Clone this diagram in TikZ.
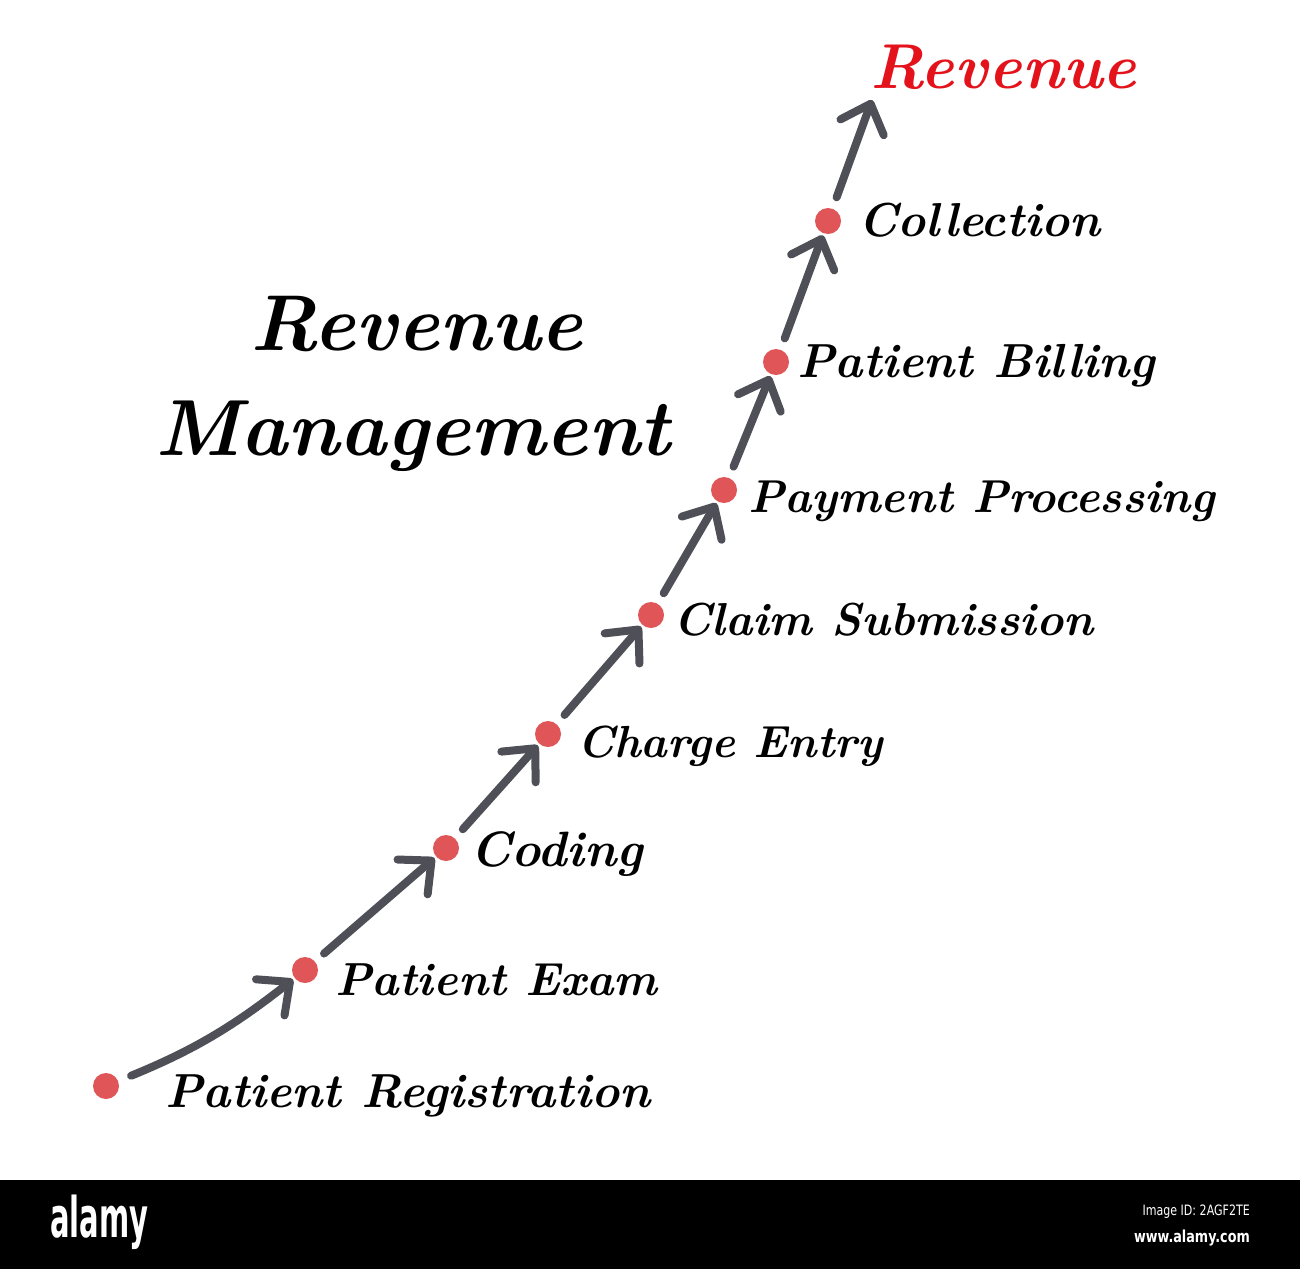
\documentclass[tikz,border=0pt]{standalone}
\usepackage{fontspec}
\setsansfont{DejaVu Sans}
\usetikzlibrary{arrows.meta}
\definecolor{arrowgray}{HTML}{4F4F57}
\definecolor{dotred}{HTML}{E05658}
\definecolor{revred}{HTML}{E3121B}
\newcommand{\fitlabel}[2]{\resizebox{#1pt}{!}{\bfseries\itshape #2}}
\begin{document}
\begin{tikzpicture}[x=1pt,y=-1pt,
  dot/.style={circle, fill=dotred, inner sep=0pt, minimum size=26pt},
  lbl/.style={anchor=base west, inner sep=0pt},
  flow/.style={draw=arrowgray, line width=8pt, line cap=round,
    -{Straight Barb[round, length=25pt, width=46pt]}}]
\useasboundingbox (0,0) rectangle (1300,1269);
\fill[white] (0,0) rectangle (1300,1180);
% dots
\node[dot] (reg) at (106,1086) {};
\node[dot] (exam) at (305,970) {};
\node[dot] (cod) at (446,848) {};
\node[dot] (chg) at (548,734) {};
\node[dot] (clm) at (651,615) {};
\node[dot] (pay) at (724,490) {};
\node[dot] (bil) at (776,362) {};
\node[dot] (col) at (828,221) {};
\coordinate (revtip) at (872,100);
% labels
\node[lbl] (lreg) at (165,1107) {\fitlabel{485}{Patient Registration}};
\node[lbl] (lexam) at (335,995) {\fitlabel{322}{Patient Exam}};
\node[lbl] (lcod) at (470,866) {\fitlabel{173}{Coding}};
\node[lbl] (lchg) at (577,757) {\fitlabel{305}{Charge Entry}};
\node[lbl] (lclm) at (673,635) {\fitlabel{420}{Claim Submission}};
\node[lbl] (lpay) at (748,512) {\fitlabel{467}{Payment Processing}};
\node[lbl] (lbil) at (797,377) {\fitlabel{358}{Patient Billing}};
\node[lbl] (lcol) at (858,236) {\fitlabel{242}{Collection}};
\node[lbl, text=revred] (lrev) at (870,88) {\fitlabel{266}{Revenue}};
% title
\node[lbl] (t1) at (250,350) {\fitlabel{332}{Revenue}};
\node[lbl] (t2) at (155,455) {\fitlabel{515}{Management}};
% arrows
\draw[flow, shorten <=14pt, shorten >=2pt] (reg) to[bend right=8] (exam);
\draw[flow, shorten <=12pt, shorten >=2pt] (exam) -- (cod);
\draw[flow, shorten <=12pt, shorten >=2pt] (cod) -- (chg);
\draw[flow, shorten <=12pt, shorten >=2pt] (chg) -- (clm);
\draw[flow, shorten <=12pt, shorten >=2pt] (clm) -- (pay);
\draw[flow, shorten <=12pt, shorten >=2pt] (pay) -- (bil);
\draw[flow, shorten <=12pt, shorten >=2pt] (bil) -- (col);
\draw[flow, shorten <=12pt] (col) -- (revtip);
% bottom bar
\fill[black] (0,1180) rectangle (1300,1269);
\node[anchor=west, inner sep=0pt, text=white, font=\sffamily\bfseries] (alamy) at (50,1222) {\scalebox{2.9}[5.6]{alamy}};
\node[anchor=east, inner sep=0pt, text=white, font=\sffamily\fontsize{13}{15}\selectfont] (imgid) at (1250,1212) {\scalebox{0.85}[1.1]{Image ID: 2AGF2TE}};
\node[anchor=east, inner sep=0pt, text=white, font=\sffamily\bfseries\fontsize{15}{17}\selectfont] (www) at (1250,1238) {\scalebox{0.85}[1.1]{www.alamy.com}};
\end{tikzpicture}
\end{document}
